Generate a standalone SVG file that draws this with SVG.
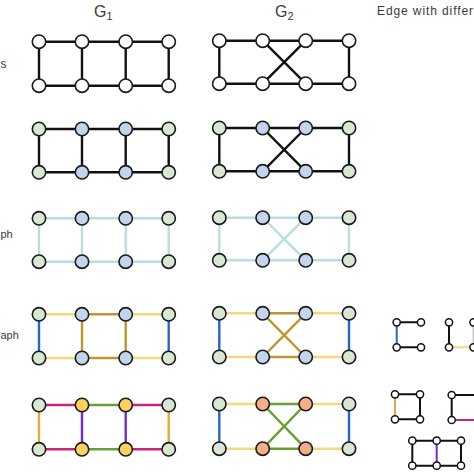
<svg xmlns="http://www.w3.org/2000/svg" width="474" height="474" viewBox="0 0 474 474">
<style>
.t{font-family:"Liberation Sans","DejaVu Sans",sans-serif;fill:#3a3a3a}
.e{stroke-width:2.4;stroke-linecap:round;fill:none}
.s{stroke-width:2;stroke-linecap:round;fill:none}
.k{stroke:#111}
.cy{stroke:#b7dfe2}
.ly{stroke:#f6d87c}
.gd{stroke:#bb972f}
.bl{stroke:#2764d3}
.mg{stroke:#c7257c}
.gr{stroke:#67a032}
.pu{stroke:#6d2ed0}
.or{stroke:#e7a93a}
.gy{stroke:#c9c9c9}
.n{stroke:#1a1a1a;stroke-width:1.6}
.w{fill:#fff}
.g{fill:#d9e8d3}
.b{fill:#c3d4ec}
.y{fill:#fdd35e}
.o{fill:#f2ae84}
.sn{fill:#fff;stroke:#111;stroke-width:1.5}
</style>
<text class="t" x="94" y="17" font-size="16">G<tspan font-size="11" dy="3">1</tspan></text>
<text class="t" x="275" y="17" font-size="16">G<tspan font-size="11" dy="3">2</tspan></text>
<text class="t" x="377" y="15" font-size="12" textLength="96" lengthAdjust="spacing">Edge with differ</text>
<text class="t" x="0.5" y="68" font-size="12">s</text>
<text class="t" x="0.5" y="238" font-size="11">ph</text>
<text class="t" x="0.5" y="339" font-size="11">aph</text>
<g id="connectors">
<path class="e k" d="M39 41.7H168.7M39 85.7H168.7M39 41.7V85.7M82 41.7V85.7M125.7 41.7V85.7M168.7 41.7V85.7"/>
<path class="e k" d="M219.3 40.7H349M219.3 83.7H349M219.3 40.7V83.7M349 40.7V83.7M262.7 40.7L305.7 83.7M305.7 40.7L262.7 83.7"/>
<path class="e k" d="M39 129H168.7M39 172.3H168.7M39 129V172.3M82 129V172.3M125.7 129V172.3M168.7 129V172.3"/>
<path class="e k" d="M219.3 128H349M219.3 171.3H349M219.3 128V171.3M349 128V171.3M262.7 128L305.7 171.3M305.7 128L262.7 171.3"/>
<path class="e cy" d="M39 218.3H168.7M39 261.7H168.7M39 218.3V261.7M82 218.3V261.7M125.7 218.3V261.7M168.7 218.3V261.7"/>
<path class="e cy" d="M219.3 217.7H349M219.3 260.3H349M219.3 217.7V260.3M349 217.7V260.3M262.7 217.7L305.7 260.3M305.7 217.7L262.7 260.3"/>
<path class="e ly" d="M39 314.3H82M125.7 314.3H168.7M39 358H82M125.7 358H168.7"/>
<path class="e gd" d="M82 314.3H125.7M82 358H125.7M82 314.3V358M125.7 314.3V358"/>
<path class="e bl" d="M39 314.3V358M168.7 314.3V358"/>
<path class="e ly" d="M219.3 313.3H262.7M305.7 313.3H349M219.3 357H262.7M305.7 357H349"/>
<path class="e gd" d="M262.7 313.3H305.7M262.7 357H305.7M262.7 313.3L305.7 357M305.7 313.3L262.7 357"/>
<path class="e bl" d="M219.3 313.3V357M349 313.3V357"/>
<path class="e mg" d="M39 405H82M125.7 405H168.7M39 449.3H82M125.7 449.3H168.7"/>
<path class="e gr" d="M82 405H125.7M82 449.3H125.7"/>
<path class="e or" d="M39 405V449.3M168.7 405V449.3"/>
<path class="e pu" d="M82 405V449.3M125.7 405V449.3"/>
<path class="e ly" d="M219.3 404H262.7M305.7 404H349M219.3 448.7H262.7M305.7 448.7H349"/>
<path class="e gr" d="M262.7 404H305.7M262.7 448.7H305.7M262.7 404L305.7 448.7M305.7 404L262.7 448.7"/>
<path class="e bl" d="M219.3 404V448.7M349 404V448.7"/>
<path class="s k" d="M396.7 322.3H421M396.7 347.3H421"/>
<path class="s bl" d="M396.7 322.3V347.3"/>
<path class="s k" d="M449 322.3V347.3"/>
<path class="s ly" d="M449 347.3H473.5"/>
<path class="s gy" d="M473.5 322.3V347.3"/>
<path class="s k" d="M395 394.3H420V419.3H395"/>
<path class="s or" d="M395 394.3V419.3"/>
<path class="s k" d="M476 395H451.7V420"/>
<path class="s mg" d="M451.7 420H476"/>
<path class="s k" d="M412.3 440.7H461V465.7H412.3Z"/>
<path class="s pu" d="M436.7 440.7V465.7"/>
</g>
<g id="r1g1a"><circle class="n w" cx="39" cy="41.7" r="6.7"/></g>
<g id="r1g1b"><circle class="n w" cx="82" cy="41.7" r="6.7"/></g>
<g id="r1g1c"><circle class="n w" cx="125.7" cy="41.7" r="6.7"/></g>
<g id="r1g1d"><circle class="n w" cx="168.7" cy="41.7" r="6.7"/></g>
<g id="r1g1e"><circle class="n w" cx="39" cy="85.7" r="6.7"/></g>
<g id="r1g1f"><circle class="n w" cx="82" cy="85.7" r="6.7"/></g>
<g id="r1g1g"><circle class="n w" cx="125.7" cy="85.7" r="6.7"/></g>
<g id="r1g1h"><circle class="n w" cx="168.7" cy="85.7" r="6.7"/></g>
<g id="r1g2a"><circle class="n w" cx="219.3" cy="40.7" r="6.7"/></g>
<g id="r1g2b"><circle class="n w" cx="262.7" cy="40.7" r="6.7"/></g>
<g id="r1g2c"><circle class="n w" cx="305.7" cy="40.7" r="6.7"/></g>
<g id="r1g2d"><circle class="n w" cx="349" cy="40.7" r="6.7"/></g>
<g id="r1g2e"><circle class="n w" cx="219.3" cy="83.7" r="6.7"/></g>
<g id="r1g2f"><circle class="n w" cx="262.7" cy="83.7" r="6.7"/></g>
<g id="r1g2g"><circle class="n w" cx="305.7" cy="83.7" r="6.7"/></g>
<g id="r1g2h"><circle class="n w" cx="349" cy="83.7" r="6.7"/></g>
<g id="r2g1a"><circle class="n g" cx="39" cy="129" r="6.7"/></g>
<g id="r2g1b"><circle class="n b" cx="82" cy="129" r="6.7"/></g>
<g id="r2g1c"><circle class="n b" cx="125.7" cy="129" r="6.7"/></g>
<g id="r2g1d"><circle class="n g" cx="168.7" cy="129" r="6.7"/></g>
<g id="r2g1e"><circle class="n g" cx="39" cy="172.3" r="6.7"/></g>
<g id="r2g1f"><circle class="n b" cx="82" cy="172.3" r="6.7"/></g>
<g id="r2g1g"><circle class="n b" cx="125.7" cy="172.3" r="6.7"/></g>
<g id="r2g1h"><circle class="n g" cx="168.7" cy="172.3" r="6.7"/></g>
<g id="r2g2a"><circle class="n g" cx="219.3" cy="128" r="6.7"/></g>
<g id="r2g2b"><circle class="n b" cx="262.7" cy="128" r="6.7"/></g>
<g id="r2g2c"><circle class="n b" cx="305.7" cy="128" r="6.7"/></g>
<g id="r2g2d"><circle class="n g" cx="349" cy="128" r="6.7"/></g>
<g id="r2g2e"><circle class="n g" cx="219.3" cy="171.3" r="6.7"/></g>
<g id="r2g2f"><circle class="n b" cx="262.7" cy="171.3" r="6.7"/></g>
<g id="r2g2g"><circle class="n b" cx="305.7" cy="171.3" r="6.7"/></g>
<g id="r2g2h"><circle class="n g" cx="349" cy="171.3" r="6.7"/></g>
<g id="r3g1a"><circle class="n g" cx="39" cy="218.3" r="6.7"/></g>
<g id="r3g1b"><circle class="n b" cx="82" cy="218.3" r="6.7"/></g>
<g id="r3g1c"><circle class="n b" cx="125.7" cy="218.3" r="6.7"/></g>
<g id="r3g1d"><circle class="n g" cx="168.7" cy="218.3" r="6.7"/></g>
<g id="r3g1e"><circle class="n g" cx="39" cy="261.7" r="6.7"/></g>
<g id="r3g1f"><circle class="n b" cx="82" cy="261.7" r="6.7"/></g>
<g id="r3g1g"><circle class="n b" cx="125.7" cy="261.7" r="6.7"/></g>
<g id="r3g1h"><circle class="n g" cx="168.7" cy="261.7" r="6.7"/></g>
<g id="r3g2a"><circle class="n g" cx="219.3" cy="217.7" r="6.7"/></g>
<g id="r3g2b"><circle class="n b" cx="262.7" cy="217.7" r="6.7"/></g>
<g id="r3g2c"><circle class="n b" cx="305.7" cy="217.7" r="6.7"/></g>
<g id="r3g2d"><circle class="n g" cx="349" cy="217.7" r="6.7"/></g>
<g id="r3g2e"><circle class="n g" cx="219.3" cy="260.3" r="6.7"/></g>
<g id="r3g2f"><circle class="n b" cx="262.7" cy="260.3" r="6.7"/></g>
<g id="r3g2g"><circle class="n b" cx="305.7" cy="260.3" r="6.7"/></g>
<g id="r3g2h"><circle class="n g" cx="349" cy="260.3" r="6.7"/></g>
<g id="r4g1a"><circle class="n g" cx="39" cy="314.3" r="6.7"/></g>
<g id="r4g1b"><circle class="n b" cx="82" cy="314.3" r="6.7"/></g>
<g id="r4g1c"><circle class="n b" cx="125.7" cy="314.3" r="6.7"/></g>
<g id="r4g1d"><circle class="n g" cx="168.7" cy="314.3" r="6.7"/></g>
<g id="r4g1e"><circle class="n g" cx="39" cy="358" r="6.7"/></g>
<g id="r4g1f"><circle class="n b" cx="82" cy="358" r="6.7"/></g>
<g id="r4g1g"><circle class="n b" cx="125.7" cy="358" r="6.7"/></g>
<g id="r4g1h"><circle class="n g" cx="168.7" cy="358" r="6.7"/></g>
<g id="r4g2a"><circle class="n g" cx="219.3" cy="313.3" r="6.7"/></g>
<g id="r4g2b"><circle class="n b" cx="262.7" cy="313.3" r="6.7"/></g>
<g id="r4g2c"><circle class="n b" cx="305.7" cy="313.3" r="6.7"/></g>
<g id="r4g2d"><circle class="n g" cx="349" cy="313.3" r="6.7"/></g>
<g id="r4g2e"><circle class="n g" cx="219.3" cy="357" r="6.7"/></g>
<g id="r4g2f"><circle class="n b" cx="262.7" cy="357" r="6.7"/></g>
<g id="r4g2g"><circle class="n b" cx="305.7" cy="357" r="6.7"/></g>
<g id="r4g2h"><circle class="n g" cx="349" cy="357" r="6.7"/></g>
<g id="r5g1a"><circle class="n g" cx="39" cy="405" r="6.7"/></g>
<g id="r5g1b"><circle class="n y" cx="82" cy="405" r="6.7"/></g>
<g id="r5g1c"><circle class="n y" cx="125.7" cy="405" r="6.7"/></g>
<g id="r5g1d"><circle class="n g" cx="168.7" cy="405" r="6.7"/></g>
<g id="r5g1e"><circle class="n g" cx="39" cy="449.3" r="6.7"/></g>
<g id="r5g1f"><circle class="n y" cx="82" cy="449.3" r="6.7"/></g>
<g id="r5g1g"><circle class="n y" cx="125.7" cy="449.3" r="6.7"/></g>
<g id="r5g1h"><circle class="n g" cx="168.7" cy="449.3" r="6.7"/></g>
<g id="r5g2a"><circle class="n g" cx="219.3" cy="404" r="6.7"/></g>
<g id="r5g2b"><circle class="n o" cx="262.7" cy="404" r="6.7"/></g>
<g id="r5g2c"><circle class="n o" cx="305.7" cy="404" r="6.7"/></g>
<g id="r5g2d"><circle class="n g" cx="349" cy="404" r="6.7"/></g>
<g id="r5g2e"><circle class="n g" cx="219.3" cy="448.7" r="6.7"/></g>
<g id="r5g2f"><circle class="n o" cx="262.7" cy="448.7" r="6.7"/></g>
<g id="r5g2g"><circle class="n o" cx="305.7" cy="448.7" r="6.7"/></g>
<g id="r5g2h"><circle class="n g" cx="349" cy="448.7" r="6.7"/></g>
<g id="s1a"><circle class="sn" cx="396.7" cy="322.3" r="3.6"/></g>
<g id="s1b"><circle class="sn" cx="421" cy="322.3" r="3.6"/></g>
<g id="s1c"><circle class="sn" cx="396.7" cy="347.3" r="3.6"/></g>
<g id="s1d"><circle class="sn" cx="421" cy="347.3" r="3.6"/></g>
<g id="s2a"><circle class="sn" cx="449" cy="322.3" r="3.6"/></g>
<g id="s2b"><circle class="sn" cx="449" cy="347.3" r="3.6"/></g>
<g id="s2c"><circle class="sn" cx="473.5" cy="322.3" r="3.6"/></g>
<g id="s2d"><circle class="sn" cx="473.5" cy="347.3" r="3.6"/></g>
<g id="s3a"><circle class="sn" cx="395" cy="394.3" r="3.6"/></g>
<g id="s3b"><circle class="sn" cx="420" cy="394.3" r="3.6"/></g>
<g id="s3c"><circle class="sn" cx="395" cy="419.3" r="3.6"/></g>
<g id="s3d"><circle class="sn" cx="420" cy="419.3" r="3.6"/></g>
<g id="s4a"><circle class="sn" cx="451.7" cy="395" r="3.6"/></g>
<g id="s4b"><circle class="sn" cx="451.7" cy="420" r="3.6"/></g>
<g id="s5a"><circle class="sn" cx="412.3" cy="440.7" r="3.6"/></g>
<g id="s5b"><circle class="sn" cx="436.7" cy="440.7" r="3.6"/></g>
<g id="s5c"><circle class="sn" cx="461" cy="440.7" r="3.6"/></g>
<g id="s5d"><circle class="sn" cx="412.3" cy="465.7" r="3.6"/></g>
<g id="s5e"><circle class="sn" cx="436.7" cy="465.7" r="3.6"/></g>
<g id="s5f"><circle class="sn" cx="461" cy="465.7" r="3.6"/></g>
</svg>
